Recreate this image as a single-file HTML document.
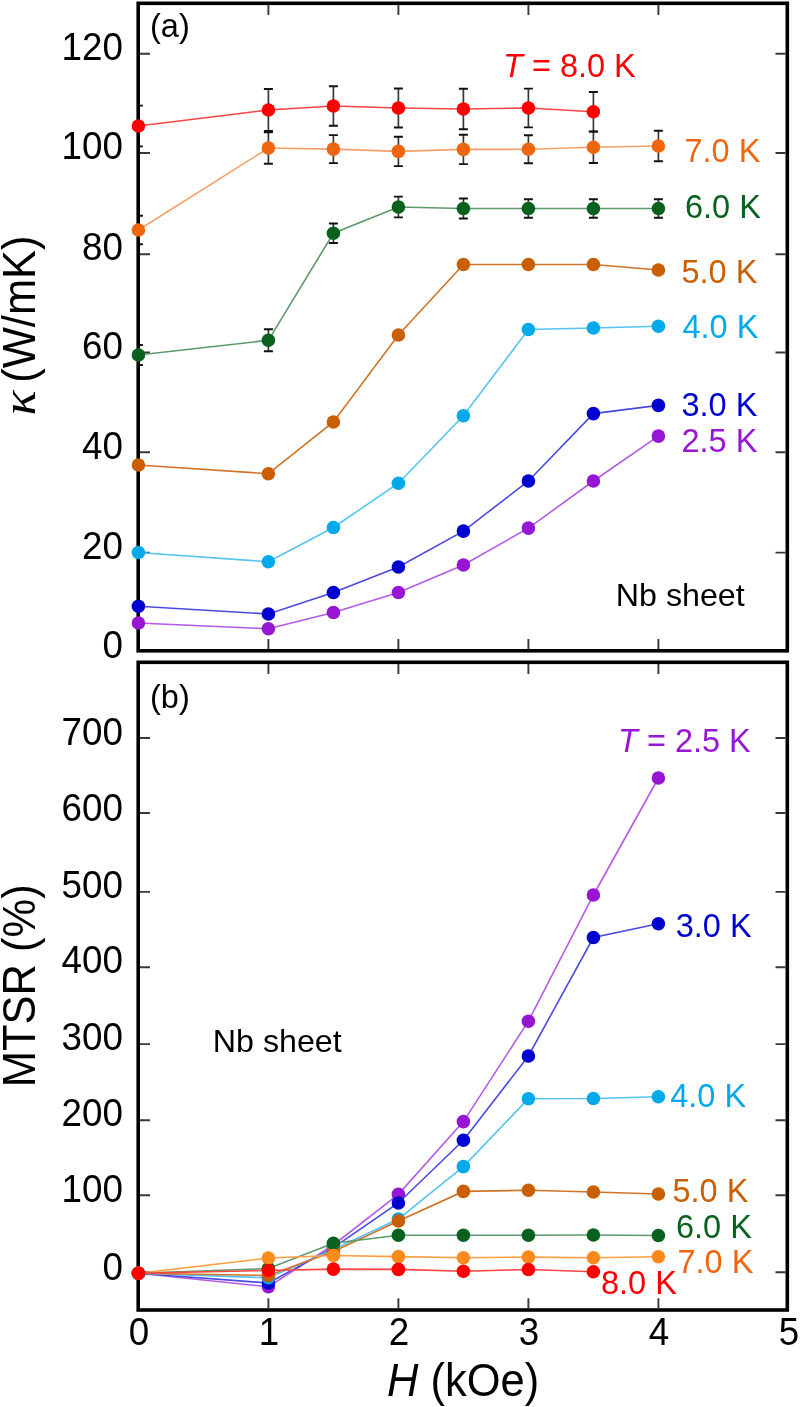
<!DOCTYPE html>
<html><head><meta charset="utf-8"><title>Nb sheet thermal conductivity and MTSR</title>
<style>
html,body{margin:0;padding:0;background:#fff;}
body{width:800px;height:1407px;overflow:hidden;}
svg{display:block;font-family:"Liberation Sans",Arial,sans-serif;}
</style></head><body>
<svg width="800" height="1407" viewBox="0 0 800 1407">
<defs><clipPath id="clipA"><rect x="140" y="5" width="645.5" height="644"/></clipPath></defs>
<rect width="800" height="1407" fill="#fff"/>
<rect x="138.20" y="3.30" width="649.10" height="647.50" fill="none" stroke="#000" stroke-width="3.6"/>
<path d="M268.40 5.10v10M268.40 649.00v-10M398.40 5.10v10M398.40 649.00v-10M528.40 5.10v10M528.40 649.00v-10M658.40 5.10v10M658.40 649.00v-10M140.00 552.60h10M785.50 552.60h-10M140.00 452.30h10M785.50 452.30h-10M140.00 352.50h10M785.50 352.50h-10M140.00 254.20h10M785.50 254.20h-10M140.00 153.00h10M785.50 153.00h-10M140.00 53.75h10M785.50 53.75h-10" stroke="#383838" stroke-width="1.9" fill="none"/>
<rect x="138.20" y="662.30" width="649.10" height="647.70" fill="none" stroke="#000" stroke-width="3.6"/>
<path d="M268.40 664.10v10M268.40 1308.20v-10M398.40 664.10v10M398.40 1308.20v-10M528.40 664.10v10M528.40 1308.20v-10M658.40 664.10v10M658.40 1308.20v-10M140.00 1195.25h10M785.50 1195.25h-10M140.00 1120.25h10M785.50 1120.25h-10M140.00 1044.15h10M785.50 1044.15h-10M140.00 967.25h10M785.50 967.25h-10M140.00 891.85h10M785.50 891.85h-10M140.00 813.00h10M785.50 813.00h-10M140.00 738.00h10M785.50 738.00h-10M140.00 1272.20h10M785.50 1272.20h-10" stroke="#383838" stroke-width="1.9" fill="none"/>
<polyline fill="none" stroke="#b45ae6" stroke-width="1.60" points="138.40,623.00 268.40,628.75 333.40,612.50 398.40,592.50 463.40,565.00 528.40,528.10 593.40,481.00 658.40,436.10"/>
<circle cx="138.40" cy="623.00" r="6.80" fill="#9616d4"/>
<circle cx="268.40" cy="628.75" r="6.80" fill="#9616d4"/>
<circle cx="333.40" cy="612.50" r="6.80" fill="#9616d4"/>
<circle cx="398.40" cy="592.50" r="6.80" fill="#9616d4"/>
<circle cx="463.40" cy="565.00" r="6.80" fill="#9616d4"/>
<circle cx="528.40" cy="528.10" r="6.80" fill="#9616d4"/>
<circle cx="593.40" cy="481.00" r="6.80" fill="#9616d4"/>
<circle cx="658.40" cy="436.10" r="6.80" fill="#9616d4"/>
<polyline fill="none" stroke="#55c4f0" stroke-width="1.60" points="138.40,552.50 268.40,561.75 333.40,527.50 398.40,483.25 463.40,415.70 528.40,329.50 593.40,328.00 658.40,326.25"/>
<circle cx="138.40" cy="552.50" r="6.80" fill="#02a9eb"/>
<circle cx="268.40" cy="561.75" r="6.80" fill="#02a9eb"/>
<circle cx="333.40" cy="527.50" r="6.80" fill="#02a9eb"/>
<circle cx="398.40" cy="483.25" r="6.80" fill="#02a9eb"/>
<circle cx="463.40" cy="415.70" r="6.80" fill="#02a9eb"/>
<circle cx="528.40" cy="329.50" r="6.80" fill="#02a9eb"/>
<circle cx="593.40" cy="328.00" r="6.80" fill="#02a9eb"/>
<circle cx="658.40" cy="326.25" r="6.80" fill="#02a9eb"/>
<polyline fill="none" stroke="#4a4ae2" stroke-width="1.60" points="138.40,606.25 268.40,614.00 333.40,592.50 398.40,567.00 463.40,531.10 528.40,481.00 593.40,413.60 658.40,405.40"/>
<circle cx="138.40" cy="606.25" r="6.80" fill="#0000cf"/>
<circle cx="268.40" cy="614.00" r="6.80" fill="#0000cf"/>
<circle cx="333.40" cy="592.50" r="6.80" fill="#0000cf"/>
<circle cx="398.40" cy="567.00" r="6.80" fill="#0000cf"/>
<circle cx="463.40" cy="531.10" r="6.80" fill="#0000cf"/>
<circle cx="528.40" cy="481.00" r="6.80" fill="#0000cf"/>
<circle cx="593.40" cy="413.60" r="6.80" fill="#0000cf"/>
<circle cx="658.40" cy="405.40" r="6.80" fill="#0000cf"/>
<polyline fill="none" stroke="#d07428" stroke-width="1.60" points="138.40,465.00 268.40,473.75 333.40,422.00 398.40,335.00 463.40,264.50 528.40,264.50 593.40,264.50 658.40,270.00"/>
<circle cx="138.40" cy="465.00" r="6.80" fill="#c95f02"/>
<circle cx="268.40" cy="473.75" r="6.80" fill="#c95f02"/>
<circle cx="333.40" cy="422.00" r="6.80" fill="#c95f02"/>
<circle cx="398.40" cy="335.00" r="6.80" fill="#c95f02"/>
<circle cx="463.40" cy="264.50" r="6.80" fill="#c95f02"/>
<circle cx="528.40" cy="264.50" r="6.80" fill="#c95f02"/>
<circle cx="593.40" cy="264.50" r="6.80" fill="#c95f02"/>
<circle cx="658.40" cy="270.00" r="6.80" fill="#c95f02"/>
<polyline fill="none" stroke="#5a9a6a" stroke-width="1.60" points="138.40,355.00 268.40,340.30 333.40,233.25 398.40,207.00 463.40,208.50 528.40,208.50 593.40,208.50 658.40,208.50"/>
<g clip-path="url(#clipA)"><path d="M138.40 345.00V365.00M268.40 329.30V351.30M333.40 223.50V243.00M398.40 196.60V217.40M463.40 198.50V218.50M528.40 199.20V217.80M593.40 199.20V217.80M658.40 199.20V217.80" stroke="#383838" stroke-width="1.7" fill="none"/><path d="M133.90 345.00h9M133.90 365.00h9M263.90 329.30h9M263.90 351.30h9M328.90 223.50h9M328.90 243.00h9M393.90 196.60h9M393.90 217.40h9M458.90 198.50h9M458.90 218.50h9M523.90 199.20h9M523.90 217.80h9M588.90 199.20h9M588.90 217.80h9M653.90 199.20h9M653.90 217.80h9" stroke="#111" stroke-width="1.9" fill="none"/></g>
<circle cx="138.40" cy="355.00" r="6.80" fill="#08621e"/>
<circle cx="268.40" cy="340.30" r="6.80" fill="#08621e"/>
<circle cx="333.40" cy="233.25" r="6.80" fill="#08621e"/>
<circle cx="398.40" cy="207.00" r="6.80" fill="#08621e"/>
<circle cx="463.40" cy="208.50" r="6.80" fill="#08621e"/>
<circle cx="528.40" cy="208.50" r="6.80" fill="#08621e"/>
<circle cx="593.40" cy="208.50" r="6.80" fill="#08621e"/>
<circle cx="658.40" cy="208.50" r="6.80" fill="#08621e"/>
<polyline fill="none" stroke="#f5a068" stroke-width="1.60" points="138.40,230.00 268.40,148.00 333.40,149.10 398.40,151.40 463.40,149.40 528.40,149.30 593.40,147.30 658.40,146.00"/>
<g clip-path="url(#clipA)"><path d="M138.40 215.80V244.20M268.40 132.30V163.70M333.40 135.10V163.10M398.40 136.70V166.10M463.40 134.70V164.10M528.40 135.30V163.30M593.40 131.60V163.00M658.40 130.70V161.30" stroke="#383838" stroke-width="1.7" fill="none"/><path d="M133.90 215.80h9M133.90 244.20h9M263.90 132.30h9M263.90 163.70h9M328.90 135.10h9M328.90 163.10h9M393.90 136.70h9M393.90 166.10h9M458.90 134.70h9M458.90 164.10h9M523.90 135.30h9M523.90 163.30h9M588.90 131.60h9M588.90 163.00h9M653.90 130.70h9M653.90 161.30h9" stroke="#111" stroke-width="1.9" fill="none"/></g>
<circle cx="138.40" cy="230.00" r="6.80" fill="#f06610"/>
<circle cx="268.40" cy="148.00" r="6.80" fill="#f06610"/>
<circle cx="333.40" cy="149.10" r="6.80" fill="#f06610"/>
<circle cx="398.40" cy="151.40" r="6.80" fill="#f06610"/>
<circle cx="463.40" cy="149.40" r="6.80" fill="#f06610"/>
<circle cx="528.40" cy="149.30" r="6.80" fill="#f06610"/>
<circle cx="593.40" cy="147.30" r="6.80" fill="#f06610"/>
<circle cx="658.40" cy="146.00" r="6.80" fill="#f06610"/>
<polyline fill="none" stroke="#ff4444" stroke-width="1.60" points="138.40,126.00 268.40,110.00 333.40,106.00 398.40,108.00 463.40,109.00 528.40,108.00 593.40,111.75"/>
<g clip-path="url(#clipA)"><path d="M138.40 105.60V146.40M268.40 89.00V131.00M333.40 86.30V125.70M398.40 88.50V127.50M463.40 88.80V129.20M528.40 88.60V127.40M593.40 91.95V131.55" stroke="#383838" stroke-width="1.7" fill="none"/><path d="M133.90 105.60h9M133.90 146.40h9M263.90 89.00h9M263.90 131.00h9M328.90 86.30h9M328.90 125.70h9M393.90 88.50h9M393.90 127.50h9M458.90 88.80h9M458.90 129.20h9M523.90 88.60h9M523.90 127.40h9M588.90 91.95h9M588.90 131.55h9" stroke="#111" stroke-width="1.9" fill="none"/></g>
<circle cx="138.40" cy="126.00" r="6.80" fill="#ff0000"/>
<circle cx="268.40" cy="110.00" r="6.80" fill="#ff0000"/>
<circle cx="333.40" cy="106.00" r="6.80" fill="#ff0000"/>
<circle cx="398.40" cy="108.00" r="6.80" fill="#ff0000"/>
<circle cx="463.40" cy="109.00" r="6.80" fill="#ff0000"/>
<circle cx="528.40" cy="108.00" r="6.80" fill="#ff0000"/>
<circle cx="593.40" cy="111.75" r="6.80" fill="#ff0000"/>
<polyline fill="none" stroke="#b45ae6" stroke-width="1.60" points="138.40,1273.30 268.40,1286.75 333.40,1245.00 398.40,1194.40 463.40,1121.60 528.40,1021.20 593.40,895.00 658.40,778.00"/>
<circle cx="138.40" cy="1273.30" r="6.80" fill="#9616d4"/>
<circle cx="268.40" cy="1286.75" r="6.80" fill="#9616d4"/>
<circle cx="333.40" cy="1245.00" r="6.80" fill="#9616d4"/>
<circle cx="398.40" cy="1194.40" r="6.80" fill="#9616d4"/>
<circle cx="463.40" cy="1121.60" r="6.80" fill="#9616d4"/>
<circle cx="528.40" cy="1021.20" r="6.80" fill="#9616d4"/>
<circle cx="593.40" cy="895.00" r="6.80" fill="#9616d4"/>
<circle cx="658.40" cy="778.00" r="6.80" fill="#9616d4"/>
<polyline fill="none" stroke="#4a4ae2" stroke-width="1.60" points="138.40,1273.30 268.40,1283.00 333.40,1247.60 398.40,1203.00 463.40,1140.30 528.40,1056.00 593.40,937.50 658.40,923.75"/>
<circle cx="138.40" cy="1273.30" r="6.80" fill="#0000cf"/>
<circle cx="268.40" cy="1283.00" r="6.80" fill="#0000cf"/>
<circle cx="333.40" cy="1247.60" r="6.80" fill="#0000cf"/>
<circle cx="398.40" cy="1203.00" r="6.80" fill="#0000cf"/>
<circle cx="463.40" cy="1140.30" r="6.80" fill="#0000cf"/>
<circle cx="528.40" cy="1056.00" r="6.80" fill="#0000cf"/>
<circle cx="593.40" cy="937.50" r="6.80" fill="#0000cf"/>
<circle cx="658.40" cy="923.75" r="6.80" fill="#0000cf"/>
<polyline fill="none" stroke="#55c4f0" stroke-width="1.60" points="138.40,1273.30 268.40,1277.75 333.40,1249.50 398.40,1219.00 463.40,1166.60 528.40,1098.70 593.40,1098.50 658.40,1096.70"/>
<circle cx="138.40" cy="1273.30" r="6.80" fill="#02a9eb"/>
<circle cx="268.40" cy="1277.75" r="6.80" fill="#02a9eb"/>
<circle cx="333.40" cy="1249.50" r="6.80" fill="#02a9eb"/>
<circle cx="398.40" cy="1219.00" r="6.80" fill="#02a9eb"/>
<circle cx="463.40" cy="1166.60" r="6.80" fill="#02a9eb"/>
<circle cx="528.40" cy="1098.70" r="6.80" fill="#02a9eb"/>
<circle cx="593.40" cy="1098.50" r="6.80" fill="#02a9eb"/>
<circle cx="658.40" cy="1096.70" r="6.80" fill="#02a9eb"/>
<polyline fill="none" stroke="#d07428" stroke-width="1.60" points="138.40,1273.30 268.40,1275.50 333.40,1251.50 398.40,1221.00 463.40,1191.40 528.40,1190.30 593.40,1192.00 658.40,1194.00"/>
<circle cx="138.40" cy="1273.30" r="6.80" fill="#c95f02"/>
<circle cx="268.40" cy="1275.50" r="6.80" fill="#c95f02"/>
<circle cx="333.40" cy="1251.50" r="6.80" fill="#c95f02"/>
<circle cx="398.40" cy="1221.00" r="6.80" fill="#c95f02"/>
<circle cx="463.40" cy="1191.40" r="6.80" fill="#c95f02"/>
<circle cx="528.40" cy="1190.30" r="6.80" fill="#c95f02"/>
<circle cx="593.40" cy="1192.00" r="6.80" fill="#c95f02"/>
<circle cx="658.40" cy="1194.00" r="6.80" fill="#c95f02"/>
<polyline fill="none" stroke="#5a9a6a" stroke-width="1.60" points="138.40,1273.30 268.40,1268.50 333.40,1243.25 398.40,1235.25 463.40,1235.30 528.40,1235.30 593.40,1235.00 658.40,1235.50"/>
<circle cx="138.40" cy="1273.30" r="6.80" fill="#08621e"/>
<circle cx="268.40" cy="1268.50" r="6.80" fill="#08621e"/>
<circle cx="333.40" cy="1243.25" r="6.80" fill="#08621e"/>
<circle cx="398.40" cy="1235.25" r="6.80" fill="#08621e"/>
<circle cx="463.40" cy="1235.30" r="6.80" fill="#08621e"/>
<circle cx="528.40" cy="1235.30" r="6.80" fill="#08621e"/>
<circle cx="593.40" cy="1235.00" r="6.80" fill="#08621e"/>
<circle cx="658.40" cy="1235.50" r="6.80" fill="#08621e"/>
<polyline fill="none" stroke="#ff9e40" stroke-width="1.60" points="138.40,1273.30 268.40,1258.00 333.40,1255.50 398.40,1256.60 463.40,1257.80 528.40,1257.10 593.40,1257.80 658.40,1256.80"/>
<circle cx="138.40" cy="1273.30" r="6.80" fill="#ff8a1c"/>
<circle cx="268.40" cy="1258.00" r="6.80" fill="#ff8a1c"/>
<circle cx="333.40" cy="1255.50" r="6.80" fill="#ff8a1c"/>
<circle cx="398.40" cy="1256.60" r="6.80" fill="#ff8a1c"/>
<circle cx="463.40" cy="1257.80" r="6.80" fill="#ff8a1c"/>
<circle cx="528.40" cy="1257.10" r="6.80" fill="#ff8a1c"/>
<circle cx="593.40" cy="1257.80" r="6.80" fill="#ff8a1c"/>
<circle cx="658.40" cy="1256.80" r="6.80" fill="#ff8a1c"/>
<polyline fill="none" stroke="#ff4444" stroke-width="1.60" points="138.40,1273.30 268.40,1270.50 333.40,1269.10 398.40,1269.40 463.40,1271.30 528.40,1269.50 593.40,1271.75"/>
<circle cx="138.40" cy="1273.30" r="6.80" fill="#ff0000"/>
<circle cx="268.40" cy="1270.50" r="6.80" fill="#ff0000"/>
<circle cx="333.40" cy="1269.10" r="6.80" fill="#ff0000"/>
<circle cx="398.40" cy="1269.40" r="6.80" fill="#ff0000"/>
<circle cx="463.40" cy="1271.30" r="6.80" fill="#ff0000"/>
<circle cx="528.40" cy="1269.50" r="6.80" fill="#ff0000"/>
<circle cx="593.40" cy="1271.75" r="6.80" fill="#ff0000"/>
<text transform="translate(123.00 59.90) scale(1.000 1.035)" font-size="36.80" fill="#000" text-anchor="end">120</text>
<text transform="translate(123.00 158.50) scale(1.000 1.035)" font-size="36.80" fill="#000" text-anchor="end">100</text>
<text transform="translate(123.00 259.80) scale(1.000 1.035)" font-size="36.80" fill="#000" text-anchor="end">80</text>
<text transform="translate(123.00 358.50) scale(1.000 1.035)" font-size="36.80" fill="#000" text-anchor="end">60</text>
<text transform="translate(123.00 458.50) scale(1.000 1.035)" font-size="36.80" fill="#000" text-anchor="end">40</text>
<text transform="translate(123.00 558.50) scale(1.000 1.035)" font-size="36.80" fill="#000" text-anchor="end">20</text>
<text transform="translate(123.00 658.20) scale(1.000 1.035)" font-size="36.80" fill="#000" text-anchor="end">0</text>
<text transform="translate(123.00 745.00) scale(1.000 1.035)" font-size="36.80" fill="#000" text-anchor="end">700</text>
<text transform="translate(123.00 820.60) scale(1.000 1.035)" font-size="36.80" fill="#000" text-anchor="end">600</text>
<text transform="translate(123.00 897.60) scale(1.000 1.035)" font-size="36.80" fill="#000" text-anchor="end">500</text>
<text transform="translate(123.00 973.00) scale(1.000 1.035)" font-size="36.80" fill="#000" text-anchor="end">400</text>
<text transform="translate(123.00 1050.00) scale(1.000 1.035)" font-size="36.80" fill="#000" text-anchor="end">300</text>
<text transform="translate(123.00 1126.00) scale(1.000 1.035)" font-size="36.80" fill="#000" text-anchor="end">200</text>
<text transform="translate(123.00 1201.50) scale(1.000 1.035)" font-size="36.80" fill="#000" text-anchor="end">100</text>
<text transform="translate(123.00 1279.50) scale(1.000 1.035)" font-size="36.80" fill="#000" text-anchor="end">0</text>
<text transform="translate(139.00 1344.80) scale(1.000 1.035)" font-size="36.80" fill="#000" text-anchor="middle">0</text>
<text transform="translate(269.00 1344.80) scale(1.000 1.035)" font-size="36.80" fill="#000" text-anchor="middle">1</text>
<text transform="translate(399.00 1344.80) scale(1.000 1.035)" font-size="36.80" fill="#000" text-anchor="middle">2</text>
<text transform="translate(529.00 1344.80) scale(1.000 1.035)" font-size="36.80" fill="#000" text-anchor="middle">3</text>
<text transform="translate(659.00 1344.80) scale(1.000 1.035)" font-size="36.80" fill="#000" text-anchor="middle">4</text>
<text transform="translate(789.00 1344.80) scale(1.000 1.035)" font-size="36.80" fill="#000" text-anchor="middle">5</text>
<text x="150.00" y="37.00" font-size="32.50" fill="#000" text-anchor="start">(a)</text>
<text x="150.00" y="708.00" font-size="32.50" fill="#000" text-anchor="start">(b)</text>
<text x="503.00" y="77.00" font-size="32.50" fill="#ff0000" text-anchor="start"><tspan font-style="italic">T</tspan> = 8.0 K</text>
<text x="684.50" y="161.60" font-size="32.50" fill="#f06610" text-anchor="start">7.0 K</text>
<text x="685.00" y="218.00" font-size="32.50" fill="#08621e" text-anchor="start">6.0 K</text>
<text x="681.50" y="282.50" font-size="32.50" fill="#c95f02" text-anchor="start">5.0 K</text>
<text x="682.50" y="337.50" font-size="32.50" fill="#02a9eb" text-anchor="start">4.0 K</text>
<text x="681.50" y="416.20" font-size="32.50" fill="#0000cf" text-anchor="start">3.0 K</text>
<text x="681.50" y="452.00" font-size="32.50" fill="#9616d4" text-anchor="start">2.5 K</text>
<text x="615.80" y="606.00" font-size="32.20" fill="#000" text-anchor="start">Nb sheet</text>
<text x="212.80" y="1052.40" font-size="32.20" fill="#000" text-anchor="start">Nb sheet</text>
<text x="618.00" y="752.00" font-size="32.50" fill="#9616d4" text-anchor="start"><tspan font-style="italic">T</tspan> = 2.5 K</text>
<text x="675.70" y="937.40" font-size="32.50" fill="#0000cf" text-anchor="start">3.0 K</text>
<text x="670.20" y="1107.20" font-size="32.50" fill="#02a9eb" text-anchor="start">4.0 K</text>
<text x="672.50" y="1202.00" font-size="32.50" fill="#c95f02" text-anchor="start">5.0 K</text>
<text x="676.00" y="1238.00" font-size="32.50" fill="#08621e" text-anchor="start">6.0 K</text>
<text x="677.50" y="1272.50" font-size="32.50" fill="#f06610" text-anchor="start">7.0 K</text>
<text x="601.00" y="1293.70" font-size="32.50" fill="#ff0000" text-anchor="start">8.0 K</text>
<text transform="translate(34.9,415.6) rotate(-90) scale(1.21 1.1)" font-size="43.50" font-family="'Liberation Serif', serif" font-style="italic">κ</text>
<text transform="translate(34.9,382.7) rotate(-90) scale(1 1.045)" font-size="43.50">(W/mK)</text>
<text transform="translate(34.9,1087.2) rotate(-90) scale(1 1.045)" font-size="43.50">MTSR (%)</text>
<text transform="translate(387,1395.8) scale(1 1.045)" font-size="43.50"><tspan font-style="italic">H</tspan> (kOe)</text>
</svg>
</body></html>
